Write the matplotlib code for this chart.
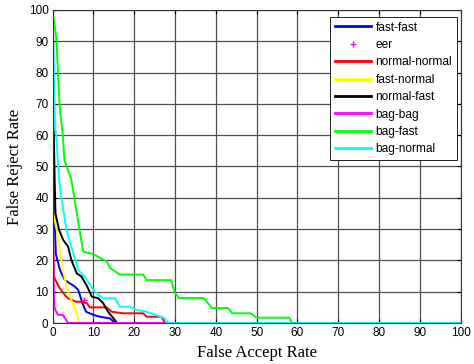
import matplotlib
matplotlib.use("Agg")
import matplotlib.pyplot as plt

fast_fast_x = [0, 0.3, 0.8, 1.8, 3.0, 5.5, 6.3, 6.8, 7.3, 8.2, 10.0, 11.6, 14.0, 15.3]
fast_fast_y = [62, 40, 22, 16.9, 13.7, 11.6, 10.5, 8.4, 6.3, 3.6, 2.6, 2.0, 1.5, 0]

eer_x = [7.7]
eer_y = [7.3]

normal_normal_x = [0, 0.3, 0.7, 1.8, 3.0, 3.8, 5.7, 7.0, 8.4, 9.1, 13.2, 14.5, 17.3, 22.2, 23.0, 26.7, 27.5]
normal_normal_y = [35, 15, 13.7, 11, 8.9, 7.9, 6.8, 6.8, 6.3, 5.0, 5.0, 3.6, 3.1, 3.1, 2.0, 2.0, 0]

fast_normal_x = [0, 0.2, 1.0, 2.2, 3.4, 4.6, 5.9, 6.5]
fast_normal_y = [88, 35, 29.7, 19, 11.6, 7.3, 3.1, 0]

normal_fast_x = [0, 0.3, 0.5, 0.7, 1.6, 2.6, 3.8, 4.6, 5.9, 7.1, 8.5, 9.6, 11.2, 12.4, 13.6, 14.9, 15.8]
normal_fast_y = [80, 60, 45.7, 35, 29.7, 26.5, 24.4, 20.1, 15.9, 14.8, 11.6, 8.4, 7.9, 6.3, 3.6, 1.5, 0]

bag_bag_x = [0, 0.3, 0.5, 1.3, 2.5, 3.8, 27.5]
bag_bag_y = [35, 8, 4.7, 2.6, 2.6, 0, 0]

bag_fast_x = [0.3, 0.9, 1.3, 1.7, 2.5, 2.9, 4.6, 6.6, 7.5, 10.0, 11.6, 13.3, 14.1, 16.5, 22.2, 23.0, 29.0, 30.0, 31.0, 37.0, 39.0, 43.0, 44.0, 48.5, 50.0, 58.0, 58.7]
bag_fast_y = [97, 91, 80.3, 69.6, 60, 52, 45.7, 29.7, 22.8, 22.0, 20.8, 19.6, 17.5, 15.5, 15.5, 13.7, 13.7, 9.5, 8.0, 8.0, 4.8, 4.8, 3.1, 3.1, 1.7, 1.7, 0]

bag_normal_x = [0, 0.6, 0.9, 1.3, 1.6, 2.1, 3.4, 4.6, 6.3, 7.9, 10.0, 12.3, 15.3, 16.5, 19.0, 20.5, 23.0, 25.5, 27.5, 28.3, 100]
bag_normal_y = [100, 62, 60, 51, 45.7, 40.4, 29.7, 24.4, 16.9, 14.8, 10.5, 7.9, 7.9, 5.2, 5.2, 4.2, 3.6, 2.5, 1.5, 0, 0]

x_ticks = [0, 10, 20, 30, 40, 50, 60, 70, 80, 90, 100]
y_ticks = [0, 10, 20, 30, 40, 50, 60, 70, 80, 90, 100]

fig = plt.figure(figsize=(4.74, 3.64), dpi=100)
ax = fig.add_axes([0.111, 0.1126, 0.861, 0.86])

lw = 1.4
ax.plot(fast_fast_x, fast_fast_y, color='#0000ff', lw=lw, label='fast-fast')
ax.plot(eer_x, eer_y, linestyle='none', marker='+', color='#ff00ff', ms=5, mew=1.0, label='eer')
ax.plot(normal_normal_x, normal_normal_y, color='#ff0000', lw=lw, label='normal-normal')
ax.plot(fast_normal_x, fast_normal_y, color='#ffff00', lw=lw, label='fast-normal')
ax.plot(normal_fast_x, normal_fast_y, color='#000000', lw=lw, label='normal-fast')
ax.plot(bag_bag_x, bag_bag_y, color='#ff00ff', lw=lw, label='bag-bag')
ax.plot(bag_fast_x, bag_fast_y, color='#00ff00', lw=lw, label='bag-fast')
ax.plot(bag_normal_x, bag_normal_y, color='#00ffff', lw=lw, label='bag-normal')

ax.set_xlim(0, 100)
ax.set_ylim(0, 100)
ax.set_xticks(x_ticks)
ax.set_yticks(y_ticks)
ax.grid(True, color='#505050', linestyle='-', linewidth=0.9)
ax.set_axisbelow(True)
ax.tick_params(direction='in', length=3, width=0.8, top=True, right=True,
               labelsize=8.5, pad=3)
for lab in ax.get_xticklabels() + ax.get_yticklabels():
    lab.set_family('Liberation Sans')
for s in ax.spines.values():
    s.set_linewidth(0.8)
    s.set_color('#333333')

ax.set_xlabel('False Accept Rate', family='Liberation Serif', fontsize=12, labelpad=4)
ax.set_ylabel('False Reject Rate', family='Liberation Serif', fontsize=12, labelpad=4)

leg = ax.legend(loc='upper right', bbox_to_anchor=(0.991, 0.978), fancybox=False,
                edgecolor='#222222', framealpha=1, prop={'family': 'Liberation Sans', 'size': 8.6},
                handlelength=3.05, labelspacing=0.45, borderpad=0.4, handletextpad=0.37,
                borderaxespad=0)
leg.get_frame().set_linewidth(0.7)
for line in leg.get_lines():
    if line.get_label() != 'eer':
        line.set_linewidth(2)

fig.savefig('out.png', dpi=100)
